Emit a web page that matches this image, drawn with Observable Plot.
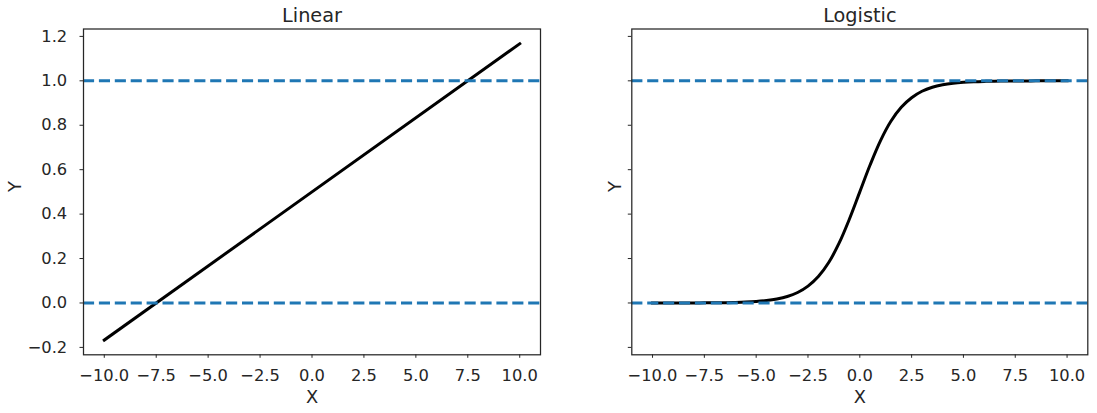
<!DOCTYPE html>
<html>
<head>
<meta charset="utf-8">
<script src="https://cdn.jsdelivr.net/npm/d3@7"></script>
<script src="https://cdn.jsdelivr.net/npm/@observablehq/plot@0.6"></script>
<style>
  body { margin: 0; background: #fff; }
  #chart { position: relative; width: 1097px; height: 413px; }
  #chart svg { position: absolute; top: 0; }
</style>
</head>
<body>
<div id="chart"></div>
<script>
// ---- data ----
const panelTitles = ["Linear", "Logistic"];
const xTicks = [-10, -7.5, -5, -2.5, 0, 2.5, 5, 7.5, 10];
const yTicks = [-0.2, 0, 0.2, 0.4, 0.6, 0.8, 1.0, 1.2];
const asymptotes = [0, 1];

const linearX = [-10, 10];
const linearY = [-0.167, 1.167];

const logisticX = [-10, -9.5, -9, -8.5, -8, -7.5, -7, -6.5, -6, -5.5, -5, -4.5, -4, -3.5, -3, -2.5, -2, -1.5, -1, -0.5,
  0, 0.5, 1, 1.5, 2, 2.5, 3, 3.5, 4, 4.5, 5, 5.5, 6, 6.5, 7, 7.5, 8, 8.5, 9, 9.5, 10];
const logisticY = [0.00005, 0.0001, 0.0001, 0.0002, 0.0003, 0.0006, 0.0009, 0.0015, 0.0025, 0.0041, 0.0067, 0.011, 0.018, 0.029, 0.047, 0.076, 0.119, 0.182, 0.269, 0.378,
  0.5, 0.622, 0.731, 0.818, 0.881, 0.924, 0.953, 0.971, 0.982, 0.989, 0.9933, 0.9959, 0.9975, 0.9985, 0.9991, 0.9994, 0.9997, 0.9998, 0.9999, 0.9999, 1.0];

const linearData = linearX.map((x, i) => ({x, y: linearY[i]}));
const logisticData = logisticX.map((x, i) => ({x, y: logisticY[i]}));

const fmt = d3.format(".1f");
const textColor = "#262626";
const tickFont = 16.3;
const labelFont = 17.8;
const titleFont = 19.3;

function panel({title, data, left, width, marginLeft, marginRight, showYLabels, yLabelDx, curve}) {
  const svg = Plot.plot({
    width, height: 413,
    marginLeft, marginRight, marginTop: 28.5, marginBottom: 58.7,
    style: {fontFamily: "DejaVu Sans", fontSize: tickFont + "px", color: textColor, background: "transparent"},
    x: {domain: [-11, 11]},
    y: {domain: [-0.2333, 1.2333]},
    marks: [
      Plot.line(data, {x: "x", y: "y", stroke: "black", strokeWidth: 3, curve, strokeLinecap: "square"}),
      Plot.ruleY(asymptotes, {stroke: "#1f77b4", strokeWidth: 3, strokeDasharray: "11.1,4.8", strokeLinecap: "butt"}),
      Plot.frame({stroke: textColor, strokeWidth: 1.25}),
      Plot.axisX({ticks: xTicks, tickFormat: fmt, tickSize: 3.5, tickPadding: 11.5, label: null, fontSize: tickFont}),
      Plot.axisY({ticks: yTicks, tickFormat: showYLabels ? fmt : () => "", tickSize: 3.5, tickPadding: 12.8, label: null, fontSize: tickFont}),
      Plot.text([title], {frameAnchor: "top", dy: -21, fontSize: titleFont, fill: textColor}),
      Plot.text(["X"], {frameAnchor: "bottom", dy: 48, fontSize: labelFont, fill: textColor}),
      Plot.text(["Y"], {frameAnchor: "left", dx: yLabelDx, rotate: -90, fontSize: labelFont, fill: textColor})
    ]
  });
  svg.style.left = left + "px";
  return svg;
}

const chart = document.getElementById("chart");
chart.appendChild(panel({title: panelTitles[0], data: linearData, left: 0, width: 548, marginLeft: 83, marginRight: 8, showYLabels: true, yLabelDx: -68, curve: "linear"}));
chart.appendChild(panel({title: panelTitles[1], data: logisticData, left: 548, width: 549, marginLeft: 83.3, marginRight: 9.7, showYLabels: false, yLabelDx: -17, curve: "catmull-rom"}));
</script>
</body>
</html>
